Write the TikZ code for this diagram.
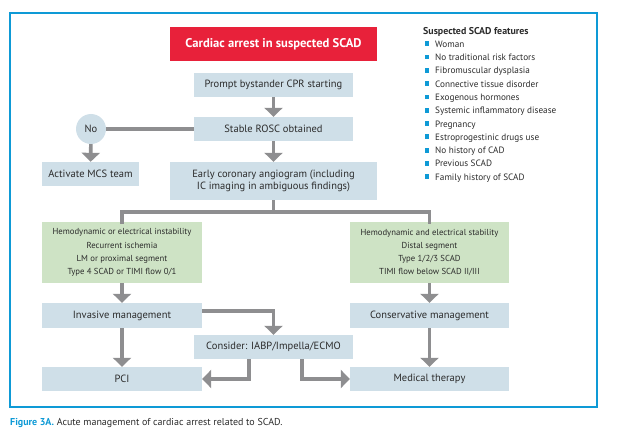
\documentclass[tikz,border=0pt]{standalone}
\usepackage{fontspec}
\setmainfont{PT Sans}
\usepackage{xcolor}
\usetikzlibrary{arrows.meta,calc,positioning}
\definecolor{framblue}{HTML}{0E9AD6}
\definecolor{boxblue}{HTML}{CFDFE8}
\definecolor{boxgreen}{HTML}{CEE3C5}
\definecolor{scadred}{HTML}{E8213A}
\definecolor{arrgrey}{HTML}{8E8E90}
\definecolor{txt}{HTML}{2B2B2B}

\tikzset{
  box/.style={fill=boxblue, inner sep=1pt, align=center, text=txt, font=\fontsize{10.5}{12}\selectfont},
  greenbox/.style={fill=boxgreen, inner sep=1pt, align=center, text=txt, font=\fontsize{8.7}{13.3}\selectfont},
  link/.style={draw=arrgrey, line width=3.6pt},
  arr/.style={link, -{Triangle[width=18pt,length=9pt]}},
}

\begin{document}
\begin{tikzpicture}[x=1pt,y=-1pt]
\useasboundingbox (0,0) rectangle (625,436);
\draw[framblue, line width=2pt] (10,13) rectangle (597,407);

% main column
\node[fill=scadred, text=white, font=\fontsize{12.6}{14}\selectfont\bfseries,
      minimum width=207pt, minimum height=34pt] (start) at (273.5,44) {Cardiac arrest in suspected SCAD};
\node[box, minimum width=159pt, minimum height=24pt] (cpr) at (273.5,85) {Prompt bystander CPR starting};
\node[box, minimum width=159pt, minimum height=24pt] (rosc) at (273.5,129) {Stable ROSC obtained};
\node[box, circle, minimum size=30pt] (no) at (91,129) {No};
\node[box, minimum width=97pt, minimum height=24pt] (mcs) at (90.5,174) {Activate MCS team};
\node[box, minimum width=207pt, minimum height=38pt] (angio) at (273.5,181)
  {Early coronary angiogram (including\\IC imaging in ambiguous findings)};

% two branches
\node[greenbox, minimum width=160pt, minimum height=61pt] (unstable) at (122,252.5)
  {Hemodynamic or electrical instability\\Recurrent ischemia\\LM or proximal segment\\Type 4 SCAD or TIMI flow 0/1};
\node[greenbox, minimum width=159pt, minimum height=61pt] (stable) at (429.5,252.5)
  {Hemodynamic and electrical stability\\Distal segment\\Type 1/2/3 SCAD\\TIMI flow below SCAD II/III};
\node[box, minimum width=160pt, minimum height=25pt] (invasive) at (122,315.5) {Invasive management};
\node[box, minimum width=159pt, minimum height=25pt] (conserv) at (429.5,315.5) {Conservative management};
\node[box, minimum width=159pt, minimum height=24pt] (consider) at (273.5,347) {Consider: IABP/Impella/ECMO};
\node[box, minimum width=160pt, minimum height=24pt] (pci) at (122,379) {PCI};
\node[box, minimum width=159pt, minimum height=24pt] (medical) at (429.5,379) {Medical therapy};

% connectors
\draw[arr] (cpr) -- (rosc);
\draw[arr] (rosc) -- (angio);
\draw[link] (rosc) -- (no);
\draw[arr] (no) -- (mcs);
\coordinate (split) at (273.5,212);
\draw[link] (angio.south) -- (split);
\draw[link, line cap=rect] (unstable.north) |- (split) -| (stable.north);
\draw[arr] (unstable) -- (invasive);
\draw[arr] (stable) -- (conserv);
\draw[arr] (invasive) -- (pci);
\draw[arr] (conserv) -- (medical);
\draw[arr] ([yshift=4.5pt]invasive.east) -| (consider.north);
\draw[arr] ([xshift=-24.5pt]consider.south) |- (pci.east);
\draw[arr] ([xshift=28.5pt]consider.south) |- (medical.west);

% legend
\node[anchor=base west, inner sep=0pt, text=txt, font=\fontsize{9.9}{11}\selectfont\bfseries] (legend) at (423,34.3) {Suspected SCAD features};
\foreach \feat [count=\i] in {Woman, No traditional risk factors, Fibromuscular dysplasia,
    Connective tissue disorder, Exogenous hormones, Systemic inflammatory disease, Pregnancy,
    Estroprogestinic drugs use, No history of CAD, Previous SCAD, Family history of SCAD}
{
  \fill[framblue] (424.5,{44+13.3*(\i-1)-2.6}) rectangle ++(4.8,4.8);
  \node[anchor=base west, inner sep=0pt, text=txt, font=\fontsize{9.2}{11}\selectfont] (feat\i) at (435,{47.3+13.3*(\i-1)}) {\feat};
}

% caption
\node[anchor=base west, inner sep=0pt, text=txt, font=\fontsize{10}{12}\selectfont] (caption) at (10,425.5)
  {\textcolor{framblue}{\bfseries Figure 3A.} Acute management of cardiac arrest related to SCAD.};
\end{tikzpicture}
\end{document}
